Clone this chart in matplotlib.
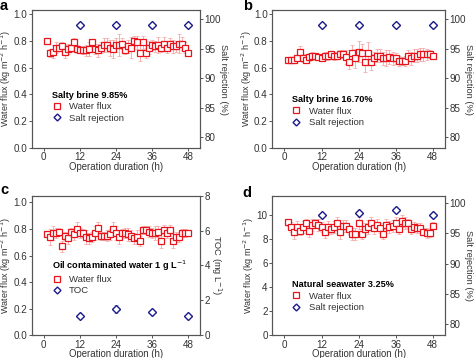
import numpy as np
import matplotlib.pyplot as plt

plt.rcParams["font.family"] = ["Liberation Sans", "DejaVu Sans"]
plt.rcParams["font.size"] = 7.1

hours = np.arange(1, 49)
sample_hours = [12, 24, 36, 48]

flux_a = [0.80, 0.71, 0.72, 0.75, 0.75, 0.76, 0.72, 0.74, 0.75, 0.79, 0.74, 0.73,
          0.73, 0.73, 0.74, 0.79, 0.74, 0.73, 0.75, 0.77, 0.77, 0.75, 0.74, 0.77,
          0.77, 0.78, 0.73, 0.76, 0.75, 0.80, 0.79, 0.71, 0.79, 0.71, 0.75, 0.77,
          0.76, 0.77, 0.75, 0.78, 0.75, 0.78, 0.76, 0.76, 0.78, 0.78, 0.75, 0.71]
err_a = [0.00, 0.03, 0.05, 0.04, 0.02, 0.03, 0.05, 0.04, 0.03, 0.03, 0.03, 0.02,
         0.03, 0.04, 0.05, 0.02, 0.04, 0.05, 0.04, 0.05, 0.05, 0.06, 0.07, 0.05,
         0.08, 0.04, 0.03, 0.05, 0.08, 0.04, 0.05, 0.06, 0.05, 0.04, 0.05, 0.04,
         0.04, 0.06, 0.03, 0.05, 0.04, 0.04, 0.05, 0.04, 0.07, 0.05, 0.04, 0.00]
rej_a = [99.0, 99.0, 99.0, 99.0]

flux_b = [0.66, 0.66, 0.66, 0.67, 0.72, 0.67, 0.66, 0.68, 0.69, 0.69, 0.68, 0.67,
          0.69, 0.69, 0.70, 0.69, 0.69, 0.70, 0.70, 0.68, 0.64, 0.71, 0.67, 0.72,
          0.71, 0.64, 0.71, 0.64, 0.67, 0.69, 0.69, 0.67, 0.67, 0.68, 0.67, 0.67,
          0.65, 0.65, 0.65, 0.69, 0.67, 0.69, 0.69, 0.70, 0.70, 0.70, 0.70, 0.69]
err_b = [0.00, 0.01, 0.02, 0.02, 0.04, 0.03, 0.02, 0.03, 0.03, 0.02, 0.02, 0.02,
         0.03, 0.03, 0.02, 0.03, 0.02, 0.03, 0.03, 0.05, 0.05, 0.06, 0.07, 0.08,
         0.07, 0.07, 0.08, 0.06, 0.05, 0.05, 0.05, 0.05, 0.06, 0.05, 0.05, 0.04,
         0.04, 0.03, 0.04, 0.04, 0.05, 0.05, 0.05, 0.05, 0.05, 0.04, 0.03, 0.02]
rej_b = [99.0, 99.0, 99.0, 99.0]

flux_c = [0.76, 0.74, 0.77, 0.77, 0.78, 0.67, 0.75, 0.73, 0.78, 0.76, 0.80, 0.77,
          0.77, 0.74, 0.73, 0.74, 0.77, 0.81, 0.75, 0.75, 0.75, 0.76, 0.80, 0.77,
          0.74, 0.77, 0.77, 0.76, 0.75, 0.73, 0.74, 0.71, 0.79, 0.79, 0.78, 0.77,
          0.77, 0.78, 0.71, 0.79, 0.77, 0.79, 0.71, 0.74, 0.74, 0.77, 0.77, 0.77]
err_c = [0.02, 0.06, 0.05, 0.04, 0.03, 0.04, 0.03, 0.04, 0.03, 0.04, 0.05, 0.04,
         0.03, 0.05, 0.04, 0.04, 0.05, 0.04, 0.03, 0.03, 0.04, 0.04, 0.05, 0.05,
         0.05, 0.03, 0.04, 0.05, 0.04, 0.04, 0.05, 0.04, 0.03, 0.03, 0.04, 0.04,
         0.05, 0.04, 0.05, 0.04, 0.04, 0.04, 0.05, 0.04, 0.04, 0.03, 0.03, 0.02]
toc_c = [1.1, 1.5, 1.3, 1.1]
toc_err = [0.05, 0.25, 0.1, 0.05]

flux_d = [9.4, 9.0, 8.6, 9.0, 8.7, 9.0, 9.3, 8.7, 9.2, 9.3, 9.2, 9.0,
          8.6, 9.0, 8.8, 9.0, 9.3, 8.6, 9.1, 9.1, 8.8, 8.4, 8.4, 9.3,
          8.4, 8.8, 9.0, 9.3, 8.9, 9.2, 8.9, 8.4, 9.2, 9.0, 9.1, 9.3,
          8.8, 9.5, 9.3, 9.3, 8.8, 9.0, 8.9, 8.9, 8.6, 8.5, 8.5, 9.1]
err_d = [0.3, 0.4, 0.6, 0.5, 0.4, 0.5, 0.4, 0.5, 0.5, 0.4, 0.5, 0.4,
         0.5, 0.5, 0.4, 0.5, 0.5, 0.6, 0.5, 0.5, 0.4, 0.5, 0.5, 0.5,
         0.4, 0.5, 0.6, 0.5, 0.5, 0.5, 0.4, 0.4, 0.5, 0.5, 0.5, 0.5,
         0.4, 0.5, 0.5, 0.4, 0.4, 0.4, 0.4, 0.4, 0.3, 0.4, 0.3, 0.3]
rej_d = [98.1, 98.4, 98.8, 98.1]

RED = "#e8141c"
ERR = "#f2a4a4"
BLUE = "#1a1a8c"
GREY = "#555555"
TEXT = "#333333"

fig = plt.figure(figsize=(4.74, 3.58), dpi=100)

panels = [
    dict(pos=[0.067, 0.587, 0.355, 0.385], letter="a", lx=0.0, ly=0.982,
         flux=flux_a, err=err_a, right=rej_a, rerr=None,
         ylim=(0, 1.033), yticks=np.arange(0, 1.01, 0.2),
         rlim=(78.2, 101.6), rticks=[80, 85, 90, 95, 100], rlabel="Salt rejection (%)",
         rpad=5, second="Salt rejection", title="Salty brine 9.85%", leg=(0.08, 0.46)),
    dict(pos=[0.574, 0.587, 0.365, 0.385], letter="b", lx=0.512, ly=0.982,
         flux=flux_b, err=err_b, right=rej_b, rerr=None,
         ylim=(0, 1.033), yticks=np.arange(0, 1.01, 0.2),
         rlim=(78.2, 101.6), rticks=[80, 85, 90, 95, 100], rlabel="Salt rejection (%)",
         rpad=5, second="Salt rejection", title="Salty brine 16.70%", leg=(0.075, 0.43)),
    dict(pos=[0.067, 0.064, 0.355, 0.389], letter="c", lx=0.0, ly=0.468,
         flux=flux_c, err=err_c, right=toc_c, rerr=toc_err,
         ylim=(0, 1.05), yticks=np.arange(0, 1.01, 0.2),
         rlim=(0, 8), rticks=[0, 2, 4, 6, 8], rlabel="TOC (mg L$^{-1}$)",
         rpad=10, second="TOC", title="Oil contaminated water 1 g L$^{-1}$", leg=(0.08, 0.6)),
    dict(pos=[0.574, 0.064, 0.365, 0.389], letter="d", lx=0.512, ly=0.462,
         flux=flux_d, err=err_d, right=rej_d, rerr=None,
         ylim=(0, 11.6), yticks=np.arange(0, 11, 2),
         rlim=(78.2, 101.2), rticks=[80, 85, 90, 95, 100], rlabel="Salt rejection (%)",
         rpad=5, second="Salt rejection", title="Natural seawater 3.25%", leg=(0.075, 0.44)),
]

for p in panels:
    ax = fig.add_axes(p["pos"])
    ax2 = ax.twinx()
    ax.errorbar(hours, p["flux"], yerr=p["err"], fmt="none", ecolor=ERR,
                elinewidth=0.6, capsize=1.2, capthick=0.5, zorder=2)
    h1, = ax.plot(hours, p["flux"], "s", ms=3.9, mfc="white", mec=RED, mew=0.9,
                  zorder=3, label="Water flux")
    if p["rerr"] is not None:
        ax2.errorbar(sample_hours, p["right"], yerr=p["rerr"], fmt="none",
                     ecolor="#8888cc", elinewidth=0.6, capsize=1.2, capthick=0.5)
    h2, = ax2.plot(sample_hours, p["right"], "D", ms=3.7, mfc="white", mec=BLUE,
                   mew=1.0, label=p["second"])
    ax.set_xlim(-4, 52)
    ax.set_xticks([0, 12, 24, 36, 48])
    ax.set_ylim(*p["ylim"])
    ax.set_yticks(p["yticks"])
    if p["letter"] != "d":
        ax.set_yticklabels([f"{v:.1f}" for v in p["yticks"]])
    ax2.set_ylim(*p["rlim"])
    ax2.set_yticks(p["rticks"])
    ax.set_xlabel("Operation duration (h)", color=TEXT, fontsize=6.9, labelpad=-0.5)
    ax.set_ylabel("Water flux (kg m$^{-2}$ h$^{-1}$)", color=TEXT, fontsize=6.5,
                  labelpad=0.2)
    ax2.set_ylabel(p["rlabel"], color=TEXT, fontsize=6.7, rotation=270,
                   labelpad=p["rpad"])
    for a in (ax, ax2):
        for s in a.spines.values():
            s.set_color(GREY)
            s.set_linewidth(0.8)
        a.tick_params(colors=GREY, labelcolor=TEXT, length=2.2, width=0.7, pad=1.0)
    leg = ax.legend(handles=[h1, h2], loc="upper left", bbox_to_anchor=p["leg"],
                    frameon=False, title=p["title"], alignment="left",
                    fontsize=6.8,
                    title_fontproperties={"weight": "bold", "size": 6.6},
                    handlelength=1.0, handletextpad=0.8, borderpad=0.2,
                    labelspacing=0.25, markerscale=0.95)
    for t in leg.get_texts():
        t.set_color(TEXT)
    fig.text(p["lx"], p["ly"], p["letter"], fontsize=10.5, fontweight="bold",
             va="center", ha="left")

fig.savefig("out.png", dpi=100)
